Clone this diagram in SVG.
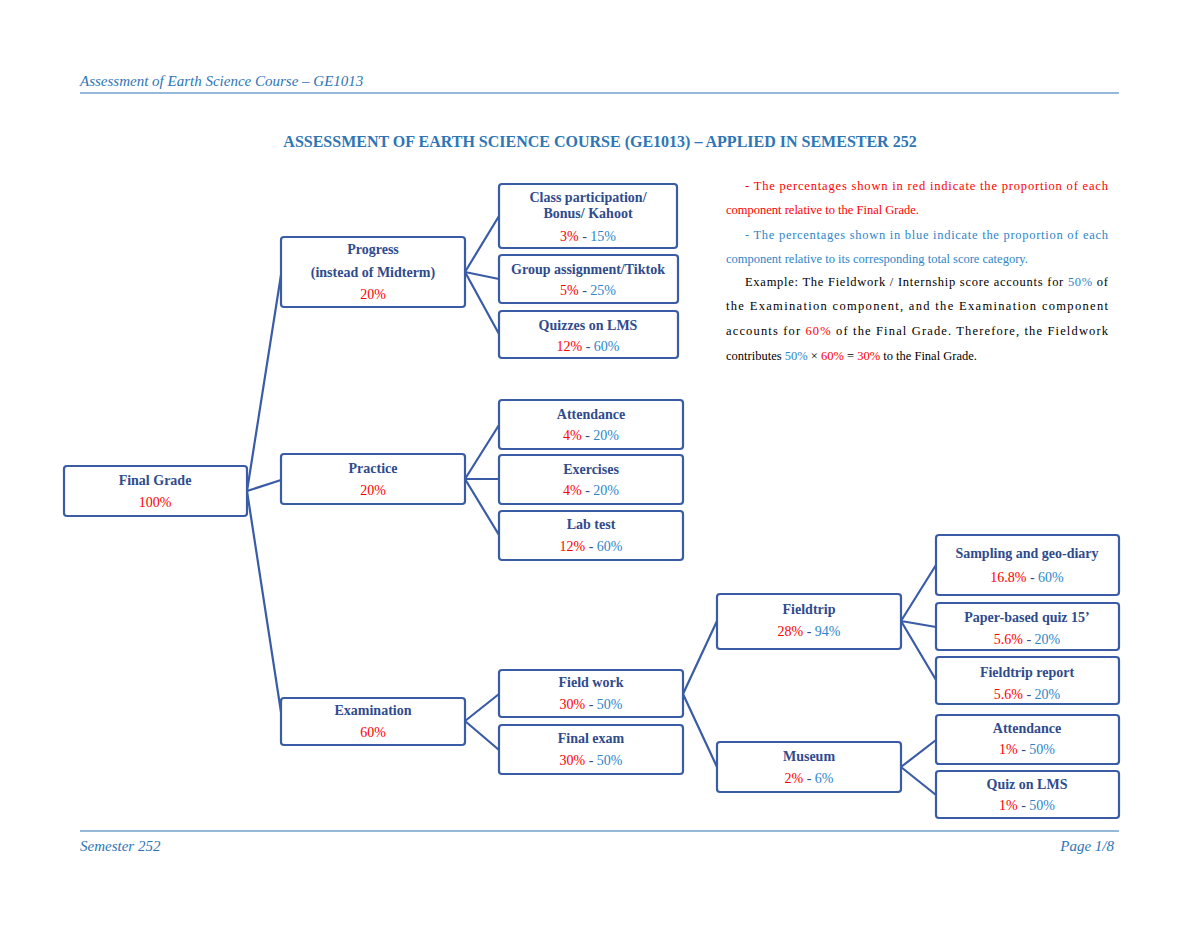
<svg xmlns="http://www.w3.org/2000/svg" width="1200" height="927" viewBox="0 0 1200 927">
<style>
.b{fill:#fff;stroke:#3a5ca6;stroke-width:2.2}
.t{font-family:"Liberation Serif",serif;font-size:14px;font-weight:bold;fill:#2f4b8c;text-anchor:middle}
.p{font-family:"Liberation Serif",serif;font-size:14px;text-anchor:middle;fill:#2f4b8c}
.r{fill:#ff0000}.u{fill:#2e86c8}
.c{stroke:#3a5ca6;stroke-width:2.2;fill:none}
.h{font-family:"Liberation Serif",serif;font-size:15px;font-style:italic;fill:#2e75b6}
.n{font-family:"Liberation Serif",serif;font-size:12.5px;fill:#000}
</style>
<rect width="1200" height="927" fill="#fff"/>
<text class="h" x="80" y="86">Assessment of Earth Science Course – GE1013</text>
<line x1="80" y1="93" x2="1119" y2="93" stroke="#2e75b6" stroke-width="1.2"/>
<text x="600" y="147" font-family="Liberation Serif,serif" font-size="16" font-weight="bold" fill="#2e75b6" text-anchor="middle">ASSESSMENT OF EARTH SCIENCE COURSE (GE1013) – APPLIED IN SEMESTER 252</text>
<line x1="80" y1="831" x2="1119" y2="831" stroke="#2e75b6" stroke-width="1.2"/>
<text class="h" x="80" y="851">Semester 252</text>
<text class="h" x="1114" y="851" text-anchor="end">Page 1/8</text>

<g id="note" class="n">
<text x="745" y="190" class="r" textLength="363" lengthAdjust="spacing">- The percentages shown in red indicate the proportion of each</text>
<text x="726" y="214" class="r">component relative to the Final Grade.</text>
<text x="745" y="239" class="u" textLength="363" lengthAdjust="spacing">- The percentages shown in blue indicate the proportion of each</text>
<text x="726" y="263" class="u">component relative to its corresponding total score category.</text>
<text x="745" y="286" textLength="363" lengthAdjust="spacing">Example: The Fieldwork / Internship score accounts for <tspan class="u">50%</tspan> of</text>
<text x="726" y="310" textLength="382" lengthAdjust="spacing">the Examination component, and the Examination component</text>
<text x="726" y="335" textLength="382" lengthAdjust="spacing">accounts for <tspan class="r">60%</tspan> of the Final Grade. Therefore, the Fieldwork</text>
<text x="726" y="360">contributes <tspan class="u">50%</tspan> × <tspan class="r">60%</tspan> = <tspan class="r">30%</tspan> to the Final Grade.</text>
</g>

<g id="connectors" class="c">
<path d="M247 491L281 275M247 491L281 480M247 491L281 712"/>
<path d="M465 272L499 216M465 272L499 279M465 272L499 334"/>
<path d="M465 479L499 425M465 479L499 479M465 479L499 535"/>
<path d="M465 721L499 694M465 721L499 750"/>
<path d="M683 694L717 621M683 694L717 767"/>
<path d="M901 621L936 565M901 621L936 627M901 621L936 680"/>
<path d="M901 767L936 740M901 767L936 795"/>
</g>

<g id="final"><rect class="b" x="64" y="466" width="183" height="50" rx="3"/><text class="t" x="155" y="485">Final Grade</text><text class="p r" x="155" y="507">100%</text></g>
<g id="progress"><rect class="b" x="281" y="237" width="184" height="70" rx="3"/><text class="t" x="373" y="254">Progress</text><text class="t" x="373" y="277">(instead of Midterm)</text><text class="p r" x="373" y="299">20%</text></g>
<g id="practice"><rect class="b" x="281" y="454" width="184" height="50" rx="3"/><text class="t" x="373" y="473">Practice</text><text class="p r" x="373" y="495">20%</text></g>
<g id="exam"><rect class="b" x="281" y="698" width="184" height="47" rx="3"/><text class="t" x="373" y="715">Examination</text><text class="p r" x="373" y="737">60%</text></g>

<g id="class"><rect class="b" x="499" y="184" width="178" height="64" rx="3"/><text class="t" x="588" y="202">Class participation/</text><text class="t" x="588" y="218">Bonus/ Kahoot</text><text class="p" x="588" y="241"><tspan class="r">3%</tspan> - <tspan class="u">15%</tspan></text></g>
<g id="group"><rect class="b" x="499" y="255" width="179" height="48" rx="3"/><text class="t" x="588" y="274">Group assignment/Tiktok</text><text class="p" x="588" y="295"><tspan class="r">5%</tspan> - <tspan class="u">25%</tspan></text></g>
<g id="quizzes"><rect class="b" x="499" y="311" width="179" height="47" rx="3"/><text class="t" x="588" y="330">Quizzes on LMS</text><text class="p" x="588" y="351"><tspan class="r">12%</tspan> - <tspan class="u">60%</tspan></text></g>

<g id="attendance"><rect class="b" x="499" y="400" width="184" height="49" rx="3"/><text class="t" x="591" y="419">Attendance</text><text class="p" x="591" y="440"><tspan class="r">4%</tspan> - <tspan class="u">20%</tspan></text></g>
<g id="exercises"><rect class="b" x="499" y="455" width="184" height="49" rx="3"/><text class="t" x="591" y="474">Exercises</text><text class="p" x="591" y="495"><tspan class="r">4%</tspan> - <tspan class="u">20%</tspan></text></g>
<g id="labtest"><rect class="b" x="499" y="511" width="184" height="49" rx="3"/><text class="t" x="591" y="529">Lab test</text><text class="p" x="591" y="551"><tspan class="r">12%</tspan> - <tspan class="u">60%</tspan></text></g>

<g id="fieldwork"><rect class="b" x="499" y="670" width="184" height="47" rx="3"/><text class="t" x="591" y="687">Field work</text><text class="p" x="591" y="709"><tspan class="r">30%</tspan> - <tspan class="u">50%</tspan></text></g>
<g id="finalexam"><rect class="b" x="499" y="725" width="184" height="49" rx="3"/><text class="t" x="591" y="743">Final exam</text><text class="p" x="591" y="765"><tspan class="r">30%</tspan> - <tspan class="u">50%</tspan></text></g>

<g id="fieldtrip"><rect class="b" x="717" y="594" width="184" height="55" rx="3"/><text class="t" x="809" y="614">Fieldtrip</text><text class="p" x="809" y="636"><tspan class="r">28%</tspan> - <tspan class="u">94%</tspan></text></g>
<g id="museum"><rect class="b" x="717" y="742" width="184" height="50" rx="3"/><text class="t" x="809" y="761">Museum</text><text class="p" x="809" y="783"><tspan class="r">2%</tspan> - <tspan class="u">6%</tspan></text></g>

<g id="sampling"><rect class="b" x="936" y="535" width="183" height="60" rx="3"/><text class="t" x="1027" y="558">Sampling and geo-diary</text><text class="p" x="1027" y="582"><tspan class="r">16.8%</tspan> - <tspan class="u">60%</tspan></text></g>
<g id="paperquiz"><rect class="b" x="936" y="603" width="183" height="47" rx="3"/><text class="t" x="1027" y="622">Paper-based quiz 15’</text><text class="p" x="1027" y="644"><tspan class="r">5.6%</tspan> - <tspan class="u">20%</tspan></text></g>
<g id="report"><rect class="b" x="936" y="657" width="183" height="47" rx="3"/><text class="t" x="1027" y="677">Fieldtrip report</text><text class="p" x="1027" y="699"><tspan class="r">5.6%</tspan> - <tspan class="u">20%</tspan></text></g>
<g id="attendance2"><rect class="b" x="936" y="715" width="183" height="49" rx="3"/><text class="t" x="1027" y="733">Attendance</text><text class="p" x="1027" y="754"><tspan class="r">1%</tspan> - <tspan class="u">50%</tspan></text></g>
<g id="quizlms"><rect class="b" x="936" y="771" width="183" height="47" rx="3"/><text class="t" x="1027" y="789">Quiz on LMS</text><text class="p" x="1027" y="810"><tspan class="r">1%</tspan> - <tspan class="u">50%</tspan></text></g>
</svg>
